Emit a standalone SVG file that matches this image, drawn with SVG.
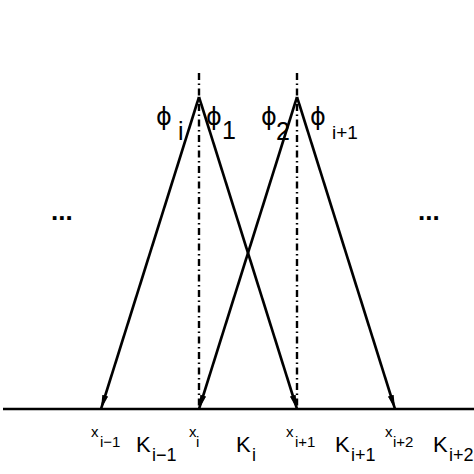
<svg xmlns="http://www.w3.org/2000/svg" width="474" height="474" viewBox="0 0 474 474">
<style>
.ln{stroke:#000;stroke-width:2.6;fill:none}
.dd{stroke:#000;stroke-width:2.4;fill:none;stroke-dasharray:7 3.5 1.5 3.5}
text{font-family:"Liberation Sans",Arial,sans-serif;fill:#000}
.phi{font-family:"DejaVu Sans","Liberation Sans",sans-serif;font-size:24px}
.big{font-size:25px}
.sub{font-size:19px}
.xs{font-size:15px}
.xsub{font-size:15px}
.K{font-size:22px}
.Ksub{font-size:18px}
.dots{font-size:26px;font-weight:bold}
</style>
<defs>
<marker id="ah" markerUnits="userSpaceOnUse" markerWidth="14" markerHeight="6" viewBox="0 0 14 6" refX="14" refY="3" orient="auto">
<path d="M0,0 L14,3 L0,6 z" fill="#000"/>
</marker>
</defs>
<rect width="474" height="474" fill="#fff"/>
<g id="axis">
<line class="ln" x1="3" y1="409" x2="474" y2="409"/>
</g>
<g id="guides">
<line class="dd" x1="199" y1="73" x2="199" y2="409"/>
<line class="dd" x1="297" y1="73" x2="297" y2="409"/>
</g>
<g id="connectors">
<line class="ln" x1="199" y1="97" x2="101" y2="409" marker-end="url(#ah)"/>
<line class="ln" x1="199" y1="97" x2="297" y2="409" marker-end="url(#ah)"/>
<line class="ln" x1="297" y1="97" x2="199" y2="409" marker-end="url(#ah)"/>
<line class="ln" x1="297" y1="97" x2="395" y2="409" marker-end="url(#ah)"/>
</g>
<g id="phi-labels">
<text class="phi" x="156" y="125">ϕ</text><text class="big" x="178" y="140">i</text>
<text class="phi" x="206" y="125">ϕ</text><text class="big" x="222" y="139">1</text>
<text class="phi" x="261" y="125">ϕ</text><text class="big" x="276" y="140">2</text>
<text class="phi" x="310" y="125">ϕ</text><text class="sub" x="332" y="139">i+1</text>
</g>
<g id="dots">
<text class="dots" x="51" y="220">...</text>
<text class="dots" x="418" y="220">...</text>
</g>
<g id="node-labels">
<text class="xs" x="91" y="437">x</text><text class="xsub" x="100" y="447">i−1</text>
<text class="K" x="136" y="452">K</text><text class="Ksub" x="152" y="461">i−1</text>
<text class="xs" x="189" y="437">x</text><text class="xsub" x="196" y="447">i</text>
<text class="K" x="236" y="452">K</text><text class="Ksub" x="252" y="461">i</text>
<text class="xs" x="286" y="437">x</text><text class="xsub" x="295" y="447">i+1</text>
<text class="K" x="335" y="452">K</text><text class="Ksub" x="351" y="461">i+1</text>
<text class="xs" x="385" y="437">x</text><text class="xsub" x="393" y="447">i+2</text>
<text class="K" x="433" y="452">K</text><text class="Ksub" x="449" y="461">i+2</text>
</g>
</svg>
